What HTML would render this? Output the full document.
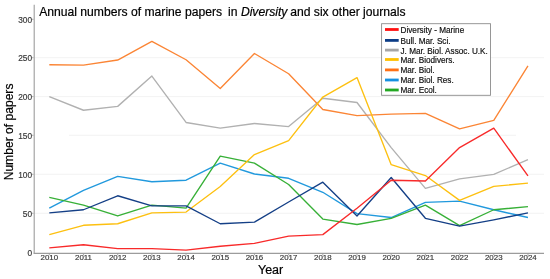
<!DOCTYPE html>
<html><head><meta charset="utf-8"><style>
html,body{margin:0;padding:0;background:#fff;width:550px;height:279px;overflow:hidden}
svg{display:block}
text{font-family:"Liberation Sans",Arial,sans-serif}
</style></head><body>
<svg width="550" height="279" viewBox="0 0 550 279">
<rect width="550" height="279" fill="#fff"/>

<line x1="34.5" x2="544" y1="213.30" y2="213.30" stroke="#efefef" stroke-width="0.8"/>
<line x1="34.5" x2="544" y1="174.30" y2="174.30" stroke="#efefef" stroke-width="0.8"/>
<line x1="69" x2="516" y1="135.30" y2="135.30" stroke="#efefef" stroke-width="0.8"/>
<line x1="34.5" x2="544" y1="96.60" y2="96.60" stroke="#efefef" stroke-width="0.8"/>
<line x1="34.5" x2="544" y1="57.70" y2="57.70" stroke="#efefef" stroke-width="0.8"/>
<line x1="215" x2="354" y1="19.30" y2="19.30" stroke="#efefef" stroke-width="0.8"/>
<polyline points="49.30,96.73 83.49,110.25 117.68,106.37 151.87,76.05 186.06,122.46 220.25,128.13 254.44,123.47 288.63,126.58 322.82,98.21 357.01,102.48 391.20,147.56 425.39,188.37 459.58,178.89 493.77,174.38 527.96,159.61" fill="none" stroke="#b1b1b1" stroke-width="1.35" stroke-linejoin="round"/>
<polyline points="49.30,64.78 83.49,65.17 117.68,60.04 151.87,41.46 186.06,59.73 220.25,88.49 254.44,53.51 288.63,73.72 322.82,109.48 357.01,115.70 391.20,114.14 425.39,113.36 459.58,128.91 493.77,120.36 527.96,65.95" fill="none" stroke="#fb8535" stroke-width="1.35" stroke-linejoin="round"/>
<polyline points="49.30,208.19 83.49,190.32 117.68,176.32 151.87,181.77 186.06,180.21 220.25,163.11 254.44,173.99 288.63,178.27 322.82,192.26 357.01,213.63 391.20,217.52 425.39,202.36 459.58,201.20 493.77,209.75 527.96,217.52" fill="none" stroke="#2199dd" stroke-width="1.35" stroke-linejoin="round"/>
<polyline points="49.30,197.31 83.49,205.08 117.68,215.97 151.87,205.08 186.06,208.19 220.25,156.11 254.44,163.11 288.63,184.49 322.82,219.08 357.01,224.52 391.20,218.30 425.39,205.08 459.58,225.68 493.77,209.75 527.96,206.64" fill="none" stroke="#37b037" stroke-width="1.35" stroke-linejoin="round"/>
<polyline points="49.30,234.62 83.49,225.29 117.68,223.74 151.87,212.86 186.06,212.08 220.25,186.43 254.44,154.56 288.63,140.57 322.82,97.04 357.01,77.61 391.20,164.67 425.39,175.55 459.58,200.42 493.77,186.43 527.96,183.09" fill="none" stroke="#fdc010" stroke-width="1.35" stroke-linejoin="round"/>
<polyline points="49.30,212.86 83.49,209.75 117.68,195.76 151.87,205.86 186.06,205.86 220.25,223.74 254.44,222.19 288.63,201.98 322.82,182.15 357.01,215.97 391.20,177.49 425.39,218.30 459.58,226.07 493.77,219.85 527.96,212.86" fill="none" stroke="#143f86" stroke-width="1.35" stroke-linejoin="round"/>
<polyline points="49.30,247.84 83.49,244.73 117.68,248.61 151.87,248.61 186.06,250.17 220.25,246.28 254.44,243.33 288.63,236.18 322.82,234.62 357.01,208.19 391.20,180.21 425.39,180.99 459.58,147.56 493.77,128.13 527.96,175.94" fill="none" stroke="#f82a2a" stroke-width="1.35" stroke-linejoin="round"/>
<line x1="34.2" x2="34.2" y1="4.7" y2="253.6" stroke="#9c9c9c" stroke-width="1.1"/>
<line x1="33.6" x2="544" y1="253.35" y2="253.35" stroke="#9c9c9c" stroke-width="1.1"/>
<text x="32.0" y="256" font-size="8.3" fill="#3a3a3a" stroke="#3a3a3a" stroke-width="0.18" text-anchor="end">0</text>
<line x1="31.8" x2="33.6" y1="213.30" y2="213.30" stroke="#9c9c9c" stroke-width="0.8"/>
<text x="32.0" y="217" font-size="8.3" fill="#3a3a3a" stroke="#3a3a3a" stroke-width="0.18" text-anchor="end">50</text>
<line x1="31.8" x2="33.6" y1="174.30" y2="174.30" stroke="#9c9c9c" stroke-width="0.8"/>
<text x="32.0" y="178" font-size="8.3" fill="#3a3a3a" stroke="#3a3a3a" stroke-width="0.18" text-anchor="end">100</text>
<line x1="31.8" x2="33.6" y1="135.30" y2="135.30" stroke="#9c9c9c" stroke-width="0.8"/>
<text x="32.0" y="139" font-size="8.3" fill="#3a3a3a" stroke="#3a3a3a" stroke-width="0.18" text-anchor="end">150</text>
<line x1="31.8" x2="33.6" y1="96.60" y2="96.60" stroke="#9c9c9c" stroke-width="0.8"/>
<text x="32.0" y="100" font-size="8.3" fill="#3a3a3a" stroke="#3a3a3a" stroke-width="0.18" text-anchor="end">200</text>
<line x1="31.8" x2="33.6" y1="57.70" y2="57.70" stroke="#9c9c9c" stroke-width="0.8"/>
<text x="32.0" y="61" font-size="8.3" fill="#3a3a3a" stroke="#3a3a3a" stroke-width="0.18" text-anchor="end">250</text>
<line x1="31.8" x2="33.6" y1="19.30" y2="19.30" stroke="#9c9c9c" stroke-width="0.8"/>
<text x="32.0" y="23" font-size="8.3" fill="#3a3a3a" stroke="#3a3a3a" stroke-width="0.18" text-anchor="end">300</text>
<line x1="49.30" x2="49.30" y1="253.8" y2="255.2" stroke="#9c9c9c" stroke-width="0.8"/>
<text x="49.30" y="260" font-size="7.9" fill="#3a3a3a" stroke="#3a3a3a" stroke-width="0.18" text-anchor="middle">2010</text>
<line x1="83.49" x2="83.49" y1="253.8" y2="255.2" stroke="#9c9c9c" stroke-width="0.8"/>
<text x="83.49" y="260" font-size="7.9" fill="#3a3a3a" stroke="#3a3a3a" stroke-width="0.18" text-anchor="middle">2011</text>
<line x1="117.68" x2="117.68" y1="253.8" y2="255.2" stroke="#9c9c9c" stroke-width="0.8"/>
<text x="117.68" y="260" font-size="7.9" fill="#3a3a3a" stroke="#3a3a3a" stroke-width="0.18" text-anchor="middle">2012</text>
<line x1="151.87" x2="151.87" y1="253.8" y2="255.2" stroke="#9c9c9c" stroke-width="0.8"/>
<text x="151.87" y="260" font-size="7.9" fill="#3a3a3a" stroke="#3a3a3a" stroke-width="0.18" text-anchor="middle">2013</text>
<line x1="186.06" x2="186.06" y1="253.8" y2="255.2" stroke="#9c9c9c" stroke-width="0.8"/>
<text x="186.06" y="260" font-size="7.9" fill="#3a3a3a" stroke="#3a3a3a" stroke-width="0.18" text-anchor="middle">2014</text>
<line x1="220.25" x2="220.25" y1="253.8" y2="255.2" stroke="#9c9c9c" stroke-width="0.8"/>
<text x="220.25" y="260" font-size="7.9" fill="#3a3a3a" stroke="#3a3a3a" stroke-width="0.18" text-anchor="middle">2015</text>
<line x1="254.44" x2="254.44" y1="253.8" y2="255.2" stroke="#9c9c9c" stroke-width="0.8"/>
<text x="254.44" y="260" font-size="7.9" fill="#3a3a3a" stroke="#3a3a3a" stroke-width="0.18" text-anchor="middle">2016</text>
<line x1="288.63" x2="288.63" y1="253.8" y2="255.2" stroke="#9c9c9c" stroke-width="0.8"/>
<text x="288.63" y="260" font-size="7.9" fill="#3a3a3a" stroke="#3a3a3a" stroke-width="0.18" text-anchor="middle">2017</text>
<line x1="322.82" x2="322.82" y1="253.8" y2="255.2" stroke="#9c9c9c" stroke-width="0.8"/>
<text x="322.82" y="260" font-size="7.9" fill="#3a3a3a" stroke="#3a3a3a" stroke-width="0.18" text-anchor="middle">2018</text>
<line x1="357.01" x2="357.01" y1="253.8" y2="255.2" stroke="#9c9c9c" stroke-width="0.8"/>
<text x="357.01" y="260" font-size="7.9" fill="#3a3a3a" stroke="#3a3a3a" stroke-width="0.18" text-anchor="middle">2019</text>
<line x1="391.20" x2="391.20" y1="253.8" y2="255.2" stroke="#9c9c9c" stroke-width="0.8"/>
<text x="391.20" y="260" font-size="7.9" fill="#3a3a3a" stroke="#3a3a3a" stroke-width="0.18" text-anchor="middle">2020</text>
<line x1="425.39" x2="425.39" y1="253.8" y2="255.2" stroke="#9c9c9c" stroke-width="0.8"/>
<text x="425.39" y="260" font-size="7.9" fill="#3a3a3a" stroke="#3a3a3a" stroke-width="0.18" text-anchor="middle">2021</text>
<line x1="459.58" x2="459.58" y1="253.8" y2="255.2" stroke="#9c9c9c" stroke-width="0.8"/>
<text x="459.58" y="260" font-size="7.9" fill="#3a3a3a" stroke="#3a3a3a" stroke-width="0.18" text-anchor="middle">2022</text>
<line x1="493.77" x2="493.77" y1="253.8" y2="255.2" stroke="#9c9c9c" stroke-width="0.8"/>
<text x="493.77" y="260" font-size="7.9" fill="#3a3a3a" stroke="#3a3a3a" stroke-width="0.18" text-anchor="middle">2023</text>
<line x1="527.96" x2="527.96" y1="253.8" y2="255.2" stroke="#9c9c9c" stroke-width="0.8"/>
<text x="527.96" y="260" font-size="7.9" fill="#3a3a3a" stroke="#3a3a3a" stroke-width="0.18" text-anchor="middle">2024</text>
<text x="270.6" y="273.8" font-size="12.5" fill="#000" stroke="#000" stroke-width="0.2" text-anchor="middle">Year</text>
<text transform="translate(13.1,131.95) rotate(-90)" font-size="12.1" fill="#000" stroke="#000" stroke-width="0.2" text-anchor="middle">Number of papers</text>
<text y="15.8" font-size="12.15" fill="#000" stroke="#000" stroke-width="0.2"><tspan x="39.2">Annual numbers of marine papers</tspan><tspan x="228.0">in</tspan><tspan x="240.9" font-style="italic">Diversity</tspan><tspan x="290.2">and six other journals</tspan></text>
<rect x="381.6" y="23.7" width="108.9" height="71.6" fill="#fff" stroke="#8c8c8c" stroke-width="0.9"/>
<line x1="385" x2="398.7" y1="29.50" y2="29.50" stroke="#ff1010" stroke-width="2.8"/>
<text x="400.5" y="32.90" font-size="8.2" fill="#111" stroke="#111" stroke-width="0.18">Diversity - Marine</text>
<line x1="385" x2="398.7" y1="40.40" y2="40.40" stroke="#0c3c86" stroke-width="2.8"/>
<text x="400.5" y="43.80" font-size="8.2" fill="#111" stroke="#111" stroke-width="0.18">Bull. Mar. Sci.</text>
<line x1="385" x2="398.7" y1="50.10" y2="50.10" stroke="#a6a6a6" stroke-width="2.8"/>
<text x="400.5" y="53.50" font-size="8.2" fill="#111" stroke="#111" stroke-width="0.18">J. Mar. Biol. Assoc. U.K.</text>
<line x1="385" x2="398.7" y1="59.50" y2="59.50" stroke="#ffc000" stroke-width="2.8"/>
<text x="400.5" y="62.90" font-size="8.2" fill="#111" stroke="#111" stroke-width="0.18">Mar. Biodivers.</text>
<line x1="385" x2="398.7" y1="69.90" y2="69.90" stroke="#ff7015" stroke-width="2.8"/>
<text x="400.5" y="73.30" font-size="8.2" fill="#111" stroke="#111" stroke-width="0.18">Mar. Biol.</text>
<line x1="385" x2="398.7" y1="80.00" y2="80.00" stroke="#1590e0" stroke-width="2.8"/>
<text x="400.5" y="83.40" font-size="8.2" fill="#111" stroke="#111" stroke-width="0.18">Mar. Biol. Res.</text>
<line x1="385" x2="398.7" y1="90.00" y2="90.00" stroke="#22a822" stroke-width="2.8"/>
<text x="400.5" y="93.40" font-size="8.2" fill="#111" stroke="#111" stroke-width="0.18">Mar. Ecol.</text>
</svg></body></html>
